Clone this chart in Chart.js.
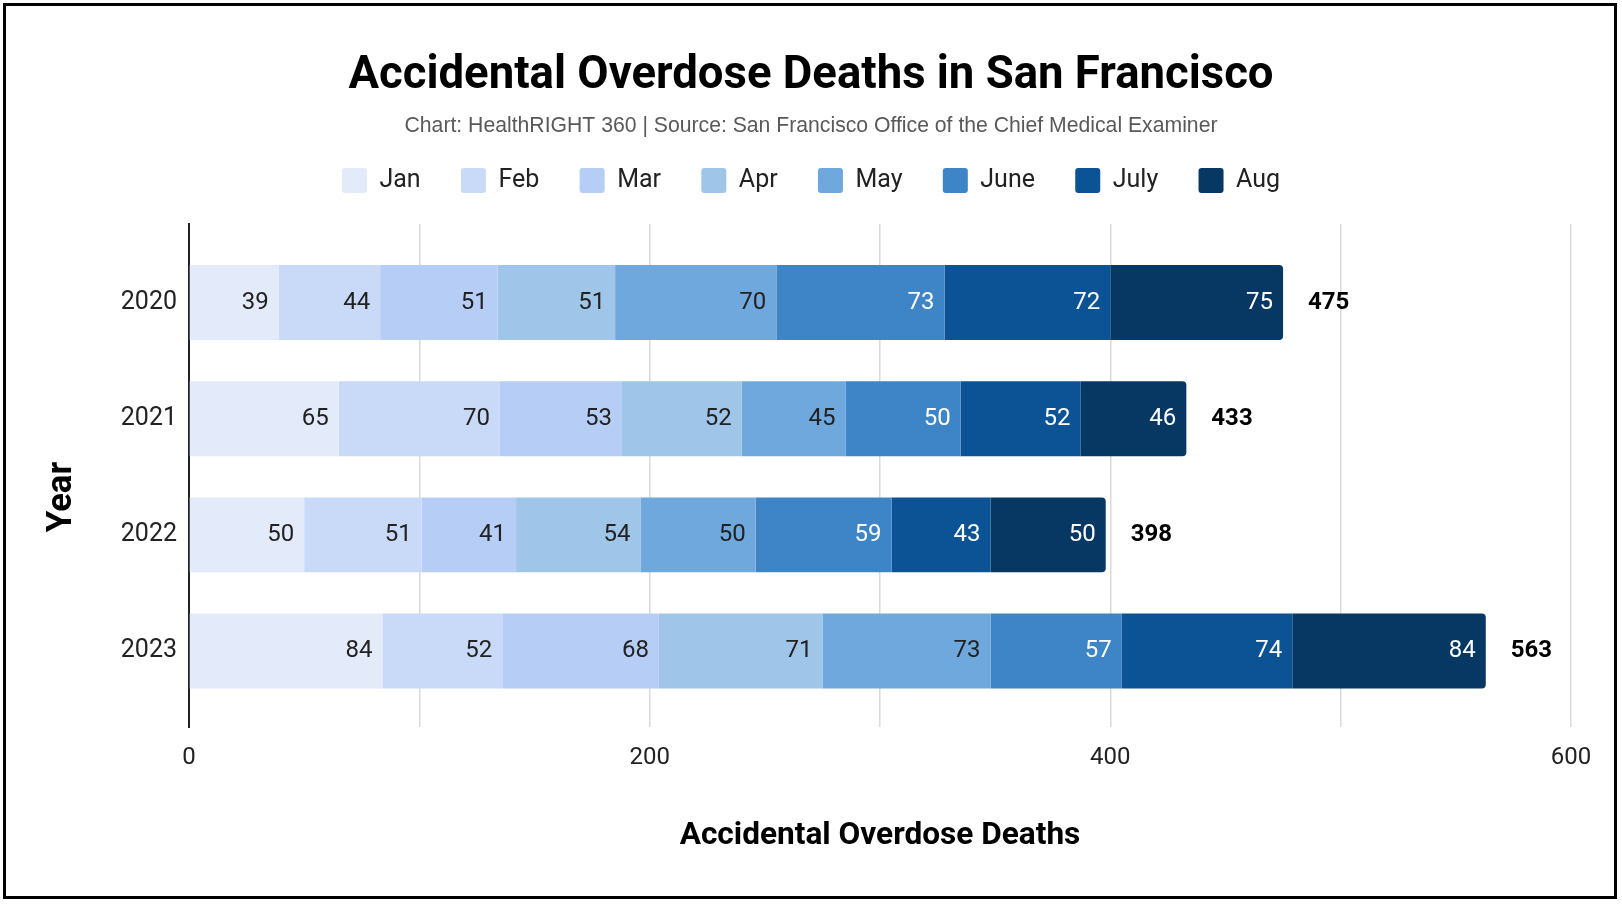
<!DOCTYPE html>
<html>
<head>
<meta charset="utf-8">
<script src="https://cdn.jsdelivr.net/npm/chart.js@4.4.1/dist/chart.umd.min.js"></script>
<style>
html,body{margin:0;padding:0;background:#fff;}
#wrap{width:1622px;height:904px;position:relative;}
</style>
</head>
<body>
<div id="wrap"><canvas id="c" width="1622" height="904"></canvas></div>
<script>
// ---- data ----
const years = ['2020', '2021', '2022', '2023'];
const months = ['Jan', 'Feb', 'Mar', 'Apr', 'May', 'June', 'July', 'Aug'];
const jan  = [39, 65, 50, 84];
const feb  = [44, 70, 51, 52];
const mar  = [51, 53, 41, 68];
const apr  = [51, 52, 54, 71];
const may  = [70, 45, 50, 73];
const june = [73, 50, 59, 57];
const july = [72, 52, 43, 74];
const aug  = [75, 46, 50, 84];
const totals = [475, 433, 398, 563];
const xTickValues = [0, 100, 200, 300, 400, 500, 600];
const xTickLabelled = [0, 200, 400, 600];

const seriesValues = [jan, feb, mar, apr, may, june, july, aug];
const colors = ['#e3eafa', '#c9daf8', '#b6cdf5', '#9fc5e8', '#6fa8dc', '#3d85c6', '#0b5394', '#073763'];
const labelColors = ['#222', '#222', '#222', '#222', '#222', '#fff', '#fff', '#fff'];

Chart.defaults.font.family = 'Roboto';
Chart.defaults.color = '#222';

const datasets = months.map((m, k) => ({
  label: m,
  data: years.map((y, i) => ({ x: seriesValues[k][i], y: i })),
  backgroundColor: colors[k],
  borderWidth: 0,
  borderRadius: k === months.length - 1 ? 4 : 0,
  borderSkipped: 'start',
  categoryPercentage: 1,
  barPercentage: 0.645
}));

const segLabels = {
  id: 'segLabels',
  afterDatasetsDraw(chart) {
    const ctx = chart.ctx;
    ctx.save();
    ctx.textBaseline = 'middle';
    ctx.font = '24px Roboto';
    ctx.textAlign = 'right';
    chart.data.datasets.forEach((ds, di) => {
      const meta = chart.getDatasetMeta(di);
      ctx.fillStyle = labelColors[di];
      meta.data.forEach((bar, i) => {
        ctx.fillText(String(ds.data[i].x), bar.x - 10, bar.y);
      });
    });
    const last = chart.getDatasetMeta(chart.data.datasets.length - 1);
    ctx.font = 'bold 24px Roboto';
    ctx.fillStyle = '#000';
    ctx.textAlign = 'left';
    last.data.forEach((bar, i) => ctx.fillText(String(totals[i]), bar.x + 25, bar.y));
    ctx.restore();
  }
};

const frame = {
  id: 'frame',
  afterDraw(chart) {
    const ctx = chart.ctx;
    ctx.save();
    ctx.strokeStyle = '#000';
    ctx.lineWidth = 3;
    ctx.strokeRect(4.5, 4.5, 1611, 893);
    ctx.restore();
  }
};

new Chart(document.getElementById('c'), {
  type: 'bar',
  data: { datasets },
  plugins: [segLabels, frame],
  options: {
    indexAxis: 'y',
    responsive: false,
    animation: false,
    layout: { padding: { left: 51, right: 51, top: 0, bottom: 0 } },
    plugins: {
      tooltip: { enabled: false },
      title: {
        display: true,
        text: 'Accidental Overdose Deaths in San Francisco',
        color: '#000',
        font: { family: 'Roboto', weight: 'bold', size: 45.5, lineHeight: 1.2 },
        padding: { top: 49.2, bottom: 0 }
      },
      subtitle: {
        display: true,
        text: 'Chart: HealthRIGHT 360 | Source: San Francisco Office of the Chief Medical Examiner',
        color: '#595959',
        font: { family: 'Liberation Sans', size: 21.2, lineHeight: '3px' },
        padding: { top: 20.9, bottom: 0 }
      },
      legend: {
        display: true,
        position: 'top',
        labels: {
          color: '#222',
          font: { size: 25 },
          boxWidth: 25,
          boxHeight: 25,
          padding: 40.3,
          useBorderRadius: true,
          borderRadius: 3
        }
      }
    },
    scales: {
      x: {
        type: 'linear',
        position: 'bottom',
        stacked: true,
        min: 0,
        max: 600,
        afterBuildTicks(s) { s.ticks = xTickValues.map(v => ({ value: v })); },
        grid: {
          color: c => (c.tick && c.tick.value === 0) ? 'rgba(0,0,0,0)' : '#dadada',
          lineWidth: 1.5,
          drawTicks: false
        },
        border: { display: false },
        ticks: {
          padding: 17,
          color: '#222',
          font: { size: 24 },
          autoSkip: false,
          maxRotation: 0,
          callback: v => xTickLabelled.includes(v) ? String(v) : ''
        },
        title: {
          display: true,
          text: 'Accidental Overdose Deaths',
          color: '#000',
          font: { size: 31.6, weight: 'bold', lineHeight: 1.2 },
          padding: { top: 0, bottom: 49 }
        },
        afterFit(s) { s.height = 177; }
      },
      xTop: {
        type: 'linear',
        position: 'top',
        display: true,
        grid: { display: false, drawTicks: false },
        border: { display: false },
        ticks: { display: false },
        afterFit(s) { s.height = 21; }
      },
      y: {
        type: 'linear',
        reverse: true,
        stacked: true,
        offset: false,
        min: -0.676,
        max: 3.654,
        afterBuildTicks(s) { s.ticks = years.map((_, i) => ({ value: i })); },
        grid: { display: false, drawTicks: false, offset: false },
        border: { display: true, color: '#222', width: 2 },
        ticks: {
          padding: 12,
          color: '#222',
          font: { size: 25 },
          autoSkip: false,
          callback: v => years[v]
        },
        title: {
          display: true,
          text: 'Year     ',
          color: '#000',
          font: { size: 34.7, weight: 'bold', lineHeight: 1 },
          padding: { top: -6.35, bottom: 0 }
        },
        afterFit(s) { s.width = 138; }
      }
    }
  }
});
</script>
</body>
</html>
